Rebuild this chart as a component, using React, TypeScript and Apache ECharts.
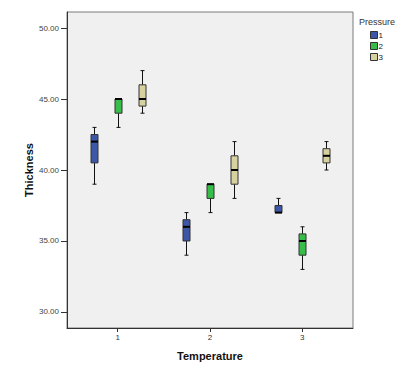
import React, { useEffect, useRef } from "react";
import * as echarts from "echarts";

// Temperature categories and Pressure groups
const temperatures = [1, 2, 3];
const pressures = ["1", "2", "3"];
// each entry: [temperature, min, Q1, median, Q3, max]
const pressure1 = [
  [1, 39, 40.5, 42, 42.5, 43],
  [2, 34, 35, 36, 36.5, 37],
  [3, 37, 37, 37, 37.5, 38],
];
const pressure2 = [
  [1, 43, 44, 45, 45, 45],
  [2, 37, 38, 39, 39, 39],
  [3, 33, 34, 35, 35.5, 36],
];
const pressure3 = [
  [1, 44, 44.5, 45, 46, 47],
  [2, 38, 39, 40, 41, 42],
  [3, 40, 40.5, 41, 41.5, 42],
];
const yTicks = [30, 35, 40, 45, 50];
const colors = ["#3c56a8", "#36bd4a", "#d7d19f"];

const FONT = "'Liberation Sans', Arial, sans-serif";

export default function App() {
  const ref = useRef<HTMLDivElement>(null);
  useEffect(() => {
    if (!ref.current) return;
    const chart = echarts.init(ref.current, undefined, { renderer: "svg" });
    const groups = [pressure1, pressure2, pressure3];
    const offsets = [-0.26, 0, 0.26];
    const makeSeries = (i: number) => ({
      type: "custom",
      name: pressures[i],
      data: groups[i],
      encode: { x: 0, y: [1, 2, 3, 4, 5] },
      itemStyle: { color: colors[i], borderColor: "#333", borderWidth: 1 },
      renderItem: (params: any, api: any) => {
        const t = api.value(0) + offsets[i];
        const pMin = api.coord([t, api.value(1)]);
        const pQ1 = api.coord([t, api.value(2)]);
        const pMed = api.coord([t, api.value(3)]);
        const pQ3 = api.coord([t, api.value(4)]);
        const pMax = api.coord([t, api.value(5)]);
        const x = Math.round(pMed[0]) + 0.5;
        const hw = 3.5;
        const cw = 2;
        const line = { stroke: "#111", lineWidth: 1 };
        const children: any[] = [];
        if (pMin[1] - pQ1[1] > 0.5) {
          children.push({ type: "line", shape: { x1: x, y1: pQ1[1], x2: x, y2: pMin[1] }, style: line });
          children.push({ type: "line", shape: { x1: x - cw, y1: pMin[1], x2: x + cw, y2: pMin[1] }, style: line });
        }
        if (pQ3[1] - pMax[1] > 0.5) {
          children.push({ type: "line", shape: { x1: x, y1: pMax[1], x2: x, y2: pQ3[1] }, style: line });
          children.push({ type: "line", shape: { x1: x - cw, y1: pMax[1], x2: x + cw, y2: pMax[1] }, style: line });
        }
        children.push({
          type: "rect",
          shape: { x: x - hw, y: pQ3[1], width: hw * 2, height: Math.max(pQ1[1] - pQ3[1], 0) },
          style: { fill: colors[i], stroke: "#333", lineWidth: 1 },
        });
        children.push({
          type: "line",
          shape: { x1: x - hw, y1: pMed[1], x2: x + hw, y2: pMed[1] },
          style: { stroke: "#000", lineWidth: 2 },
        });
        return { type: "group", children };
      },
    });
    chart.setOption({
      animation: false,
      backgroundColor: "#ffffff",
      textStyle: { fontFamily: FONT },
      grid: {
        left: 67,
        top: 12,
        width: 286,
        height: 316,
        show: true,
        backgroundColor: "#f0f0f0",
        borderColor: "#7a7a7a",
        borderWidth: 1,
      },
      legend: {
        orient: "vertical",
        left: 370,
        top: 31,
        padding: 0,
        itemWidth: 7,
        itemHeight: 7,
        itemGap: 3,
        icon: "rect",
        data: pressures,
        itemStyle: { borderColor: "#333", borderWidth: 1 },
        textStyle: { fontSize: 8, color: "#222", fontFamily: FONT, padding: [0, 0, 0, -4] },
      },
      graphic: [
        {
          type: "text",
          left: 359,
          top: 17,
          style: { text: "Pressure", fontSize: 9, fill: "#333", fontFamily: FONT },
        },
      ],
      xAxis: {
        type: "value",
        min: 0.45,
        max: 3.55,
        name: "Temperature",
        nameLocation: "middle",
        nameGap: 22,
        nameMoveOverlap: false,
        nameTextStyle: { fontSize: 11, fontWeight: "bold", color: "#111", fontFamily: FONT },
        splitLine: { show: false },
        axisLine: { show: true, lineStyle: { color: "#333", width: 1 } },
        axisTick: { show: true, length: 4, lineStyle: { color: "#333" }, customValues: temperatures },
        axisLabel: {
          fontSize: 8,
          color: "#333",
          margin: 5,
          customValues: temperatures,
          formatter: (v: number) => String(v),
        },
      },
      yAxis: {
        type: "value",
        min: 28.873,
        max: 51.127,
        name: "Thickness",
        nameLocation: "middle",
        nameGap: 33,
        nameMoveOverlap: false,
        nameRotate: 90,
        nameTextStyle: { fontSize: 11, fontWeight: "bold", color: "#111", fontFamily: FONT },
        splitLine: { show: false },
        axisLine: { show: true, lineStyle: { color: "#333", width: 1 } },
        axisTick: { show: true, length: 6, lineStyle: { color: "#333" }, customValues: yTicks },
        axisLabel: {
          fontSize: 8,
          color: "#444",
          margin: 8,
          customValues: yTicks,
          formatter: (v: number) => v.toFixed(2),
        },
      },
      series: [makeSeries(0), makeSeries(1), makeSeries(2)],
    });
    return () => chart.dispose();
  }, []);
  return (
    <div
      ref={ref}
      style={{ position: "fixed", left: 0, top: 0, width: 414, height: 376 }}
    />
  );
}
